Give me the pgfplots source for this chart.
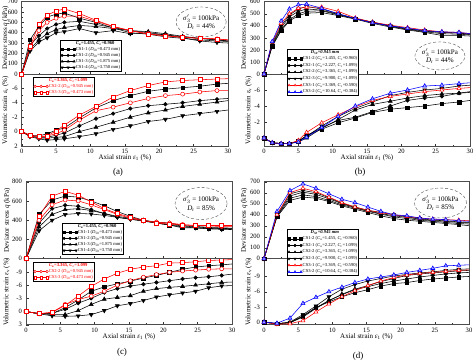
\documentclass[border=0pt]{standalone}
\usepackage{pgfplots}
\pgfplotsset{compat=1.18}
\usepackage{pgfplotstable}
\usepackage{fontspec}
\setmainfont{Liberation Serif}

\pgfplotstableread{
x s1 s2 s3 s4 rc rs
0 0 0 0 0 0 0
1.2 330 280 240 220 250 265
2.5 460 370 330 310 420 480
3.7 550 440 390 350 500 570
5.0 580 480 430 400 540 610
6.2 590 500 450 410 560 630
8.4 540 510 470 440 560 585
10.8 500 480 460 400 510 520
13.3 445 450 440 420 460 460
15.8 400 420 420 390 420 420
18.4 385 400 410 390 390 385
20.9 360 380 390 380 370 370
23.4 345 360 365 350 355 355
25.9 330 345 345 320 345 345
28.4 320 330 330 305 340 340
30 315 320 320 300 330 330
}\tAtop
\pgfplotstableread{
x s1 s2 s3 s4 rc rs
0 0 0 0 0 0 0
1.2 0.5 0.6 0.6 0.7 0.6 0.5
2.5 0.6 0.8 0.9 1.0 0.8 0.7
3.7 0.3 0.8 0.9 1.2 0.6 0.6
5.0 -0.2 0.5 0.8 1.1 0.3 -0.1
6.2 -0.5 0.2 0.7 1.0 -0.2 -0.9
8.4 -1.9 -0.8 0.0 0.7 -1.6 -2.3
10.8 -3.3 -1.8 -0.6 0.3 -2.9 -3.5
13.3 -4.3 -2.5 -1.3 -0.3 -3.4 -4.8
15.8 -5.0 -3.2 -2.0 -0.8 -4.0 -5.7
18.4 -5.6 -3.6 -2.6 -1.4 -4.6 -6.4
20.9 -5.9 -3.8 -3.0 -1.7 -5.0 -6.9
23.4 -6.1 -4.0 -3.5 -2.2 -5.2 -7.1
25.9 -6.3 -4.3 -3.8 -2.5 -5.5 -7.2
28.4 -6.6 -4.5 -4.1 -2.8 -5.7 -7.3
30 -6.7 -4.6 -4.3 -3.0 -5.7 -7.35
}\tAbot
\pgfplotstableread{
x s1 s2 s3 s4 rt bt
0 0 0 0 0 0 0
1.2 230 235 245 255 265 270
2.5 360 370 385 400 420 440
3.7 440 450 475 490 500 540
5.0 485 500 520 540 545 575
6.2 505 520 540 560 555 580
8.4 510 525 530 540 555 545
10.8 485 490 495 500 520 500
13.3 455 460 460 460 465 460
15.8 420 430 430 425 430 425
18.4 390 395 400 400 405 400
20.9 365 370 375 375 385 380
23.4 345 350 355 360 365 360
25.9 320 335 345 345 350 350
28.4 320 330 340 340 345 345
30 315 325 330 330 335 335
}\tBtop
\pgfplotstableread{
x s1 s2 s3 s4 rt bt
0 0 0 0 0 0 0
1.2 0.6 0.6 0.6 0.6 0.6 0.6
2.5 0.7 0.7 0.7 0.7 0.7 0.7
3.7 0.7 0.7 0.7 0.7 0.7 0.7
5.0 0.4 0.4 0.5 0.4 0.3 0.5
6.2 -0.3 -0.3 0.0 -0.2 -0.7 -0.1
8.4 -1.1 -1.3 -1.2 -1.5 -1.9 -1.3
10.8 -1.9 -2.2 -2.3 -2.7 -2.9 -2.7
13.3 -2.5 -2.6 -3.5 -3.7 -3.9 -4.0
15.8 -3.2 -3.3 -4.2 -4.5 -4.7 -4.9
18.4 -3.6 -4.0 -4.6 -5.3 -5.2 -5.6
20.9 -3.8 -4.7 -5.0 -5.7 -5.5 -6.0
23.4 -4.0 -5.0 -5.3 -6.0 -5.8 -6.5
25.9 -4.3 -5.2 -5.5 -6.2 -6.0 -6.6
28.4 -4.5 -5.6 -5.6 -6.5 -6.2 -6.8
30 -4.7 -5.7 -5.8 -6.6 -6.3 -6.9
}\tBbot
\pgfplotstableread{
x s1 s2 s3 s4 rc rs
0 0 0 0 0 0 0
1.9 460 370 330 290 400 440
3.8 610 520 460 400 560 650
5.7 650 555 510 460 610 700
7.6 640 545 520 470 600 660
9.5 600 510 500 465 560 590
11.4 550 470 470 450 510 520
13.3 490 430 440 430 460 470
15.2 440 410 420 410 420 430
17.1 400 390 400 395 395 400
19.0 370 370 380 370 380 370
20.9 350 355 370 350 370 360
22.8 320 340 345 330 355 350
24.7 320 330 335 320 345 345
26.6 315 320 325 310 340 345
28.5 310 315 320 305 335 345
30 310 312 318 303 335 345
}\tCtop
\pgfplotstableread{
x s1 s2 s3 s4 rc rs
0 0 0 0 0 0 0
1.9 0.5 0.5 0.5 0.5 0.5 0.5
3.8 0.5 0.4 0.7 1.0 0.2 0.2
5.7 -0.9 -0.5 0.7 1.1 -1.6 -1.4
7.6 -2.6 -1.9 -0.2 1.0 -2.7 -3.5
9.5 -4.6 -3.0 -1.6 0.7 -3.5 -5.7
11.4 -5.6 -4.3 -2.8 -0.2 -4.6 -7.4
13.3 -6.3 -5.2 -3.2 -1.3 -6.0 -8.7
15.2 -6.9 -5.8 -3.6 -1.8 -7.0 -9.6
17.1 -7.6 -6.2 -4.6 -2.5 -7.8 -10.1
19.0 -8.2 -6.6 -5.2 -3.3 -8.4 -10.4
20.9 -8.9 -7.0 -5.5 -3.8 -8.9 -11.0
22.8 -9.6 -7.4 -5.7 -4.2 -9.2 -11.1
24.7 -10.1 -7.7 -6.0 -4.6 -9.4 -11.3
26.6 -10.4 -7.9 -6.3 -5.4 -9.6 -11.6
28.5 -10.6 -8.2 -6.6 -5.8 -9.7 -11.7
30 -10.8 -8.5 -6.7 -5.9 -9.7 -11.8
}\tCbot
\pgfplotstableread{
x s1 s2 s3 s4 rt bt
0 0 0 0 0 0 0
1.9 380 385 390 400 400 430
3.8 530 550 570 590 600 620
5.7 560 580 605 620 640 680
7.6 550 565 585 600 610 640
9.5 520 530 545 555 560 590
11.4 480 490 500 505 510 540
13.3 450 460 465 470 470 510
15.2 420 430 435 440 440 470
17.1 390 405 410 420 420 430
19.0 365 380 390 400 400 400
20.9 350 365 375 380 385 390
22.8 340 350 360 365 370 370
24.7 330 340 345 350 360 360
26.6 320 330 340 345 355 355
28.5 310 320 330 335 350 345
30 300 315 325 330 345 340
}\tDtop
\pgfplotstableread{
x s1 s2 s3 s4 rt bt
0 0 0 0 0 0 0
1.9 0.3 0.3 0.3 0.3 0.4 0.2
3.8 0.1 0.1 0.1 0.0 0.3 -0.8
5.7 -1.2 -1.2 -1.0 -1.5 -0.3 -3.7
7.6 -2.9 -2.8 -2.7 -3.2 -2.0 -4.9
9.5 -4.0 -4.3 -4.2 -5.0 -3.6 -6.0
11.4 -5.0 -5.4 -5.5 -6.5 -5.0 -6.9
13.3 -5.8 -6.4 -6.5 -7.4 -6.2 -7.8
15.2 -6.4 -7.0 -7.2 -8.1 -7.2 -8.5
17.1 -7.1 -7.6 -8.0 -8.6 -8.1 -8.9
19.0 -7.6 -8.1 -8.6 -9.1 -8.8 -9.3
20.9 -7.8 -8.5 -9.2 -9.4 -9.3 -9.8
22.8 -8.2 -8.9 -9.5 -9.7 -9.6 -10.2
24.7 -8.5 -9.2 -9.7 -9.9 -9.8 -10.6
26.6 -8.7 -9.5 -9.9 -10.2 -10.0 -11.1
28.5 -8.9 -9.7 -10.1 -10.4 -10.2 -11.2
30 -9.0 -9.8 -10.2 -10.5 -10.3 -11.3
}\tDbot

\pgfplotsset{
  base/.style={scale only axis, anchor=north west, xmin=0, xmax=30, xtick={0,5,...,30},
    minor x tick num=1, minor y tick num=1, tick align=inside,
    xtick pos=bottom, ytick pos=left,
    axis line style={black!70, line width=0.5pt},
    every tick/.style={black!80, line width=0.4pt},
    major tick length=2.5pt, minor tick length=1.4pt,
    tick label style={font=\fontsize{6.6}{7.5}\selectfont},
    yticklabel style={xshift=-0.5pt},
    label style={font=\fontsize{7}{8}\selectfont},
    /pgf/number format/assume math mode=true,
    every axis plot/.append style={line width=0.55pt, mark size=1.8pt},
    ylabel style={at={(axis description cs:0,0.5)}, anchor=center},
    legend cell align=left,
    legend style={font=\fontsize{4.6}{5}\selectfont, draw=black, line width=0.3pt, fill=white,
      inner sep=0.6pt, row sep=0.6pt, nodes={inner sep=0.4pt}},
    legend image post style={mark size=1.3pt, line width=0.45pt},
    legend image code/.code={\draw[mark repeat=2,mark phase=2] plot coordinates {(0pt,0pt) (6pt,0pt) (12pt,0pt)};}
  },
  topax/.style={base, xticklabels={}, ylabel={Deviator stress \textit{q} (kPa)}, ymin=0},
  botax/.style={base, y dir=reverse, xlabel={Axial strain \textit{ε}\textsubscript{1} (\%)},
    ylabel={Volumetric strain \textit{ε}\textsubscript{v} (\%)},
    xlabel style={at={(axis description cs:0.5,0)}, anchor=center}},
  s1/.style={black, mark=square*},
  s2/.style={black, mark=*},
  s3/.style={black, mark=triangle*, mark size=2.2pt},
  s4/.style={black, mark=triangle*, mark size=2.2pt, mark options={rotate=180}},
  rs/.style={red, mark=square*, mark size=2pt, mark options={fill=white}},
  rc/.style={red, mark=*, mark size=2pt, mark options={fill=white}},
  rt/.style={red, mark=triangle*, mark size=2.3pt, mark options={fill=white}},
  bt/.style={blue, mark=triangle*, mark size=2.3pt, mark options={fill=blue!35}},
  mA/.style={mark indices={1,...,15}},
  mC/.style={mark indices={1,...,16}},
}
\newcommand{\Dfif}{\textit{D}\textsubscript{50}}
\newcommand{\CuCc}[2]{\textit{C}\textsubscript{u}=#1, \textit{C}\textsubscript{c}=#2}

\begin{document}
\begin{tikzpicture}
\path[use as bounding box] (0,0) rectangle (474pt,-361pt);

%%%%%%%%%%%% (a)
\begin{axis}[botax, at={(21.7pt,-74pt)}, width=206.3pt, height=72pt,
  ymin=-8, ymax=2, ytick={-6,-4,-2,0,2},
  ylabel style={yshift=16.3pt}, xlabel style={yshift=-12pt},
  legend style={at={(0.055,0.96)}, anchor=north west, text=red}]
\addlegendimage{empty legend}\addlegendentry{\textbf{\CuCc{3.365}{1.099}}}
\addplot[s1,mA,forget plot] table[x=x,y=s1]{\tAbot};
\addplot[s2,mA,forget plot] table[x=x,y=s2]{\tAbot};
\addplot[s3,mA,forget plot] table[x=x,y=s3]{\tAbot};
\addplot[s4,mA,forget plot] table[x=x,y=s4]{\tAbot};
\addplot[rc,mA] table[x=x,y=rc]{\tAbot};\addlegendentry{CS2-2 (\Dfif=0.945 mm)}
\addplot[rs,mA] table[x=x,y=rs]{\tAbot};\addlegendentry{CS3-3 (\Dfif=0.473 mm)}
\end{axis}
\begin{axis}[topax, at={(21.7pt,-1.7pt)}, width=206.3pt, height=72.3pt,
  ymax=700, ytick={0,100,...,700},
  ylabel style={yshift=16.3pt},
  legend style={at={(0.186,0.04)}, anchor=south west}]
\addlegendimage{empty legend}\addlegendentry{\textbf{\CuCc{1.455}{0.960}}}
\addplot[s1,mA] table[x=x,y=s1]{\tAtop};\addlegendentry{CS1-1 (\Dfif=0.473 mm)}
\addplot[s2,mA] table[x=x,y=s2]{\tAtop};\addlegendentry{CS1-2 (\Dfif=0.945 mm)}
\addplot[s3,mA] table[x=x,y=s3]{\tAtop};\addlegendentry{CS1-3 (\Dfif=1.875 mm)}
\addplot[s4,mA] table[x=x,y=s4]{\tAtop};\addlegendentry{CS1-4 (\Dfif=3.750 mm)}
\addplot[rc,mA,forget plot] table[x=x,y=rc]{\tAtop};
\addplot[rs,mA,forget plot] table[x=x,y=rs]{\tAtop};
\draw[densely dashed, black!70, line width=0.4pt] (axis description cs:0.87,0.72) ellipse [x radius=25pt, y radius=15pt];
\node[font=\fontsize{7}{8.5}\selectfont, align=center] at (axis description cs:0.87,0.72) {\textit{σ}$'_{3}$ = 100kPa\\\textit{D}\textsubscript{r} = 44\%};
\end{axis}
\node[font=\fontsize{9}{10}\selectfont] at (118pt,-172pt) {(a)};

%%%%%%%%%%%% (b)
\begin{axis}[botax, at={(264pt,-74pt)}, width=206pt, height=72pt,
  ymin=-8, ymax=1, ytick={-6,-4,-2,0},
  ylabel style={yshift=15.3pt}, xlabel style={yshift=-12pt}]
\addplot[s1,mA] table[x=x,y=s1]{\tBbot};
\addplot[s2,mA] table[x=x,y=s2]{\tBbot};
\addplot[s3,mA] table[x=x,y=s3]{\tBbot};
\addplot[s4,mA] table[x=x,y=s4]{\tBbot};
\addplot[rt,mA] table[x=x,y=rt]{\tBbot};
\addplot[bt,mA] table[x=x,y=bt]{\tBbot};
\end{axis}
\begin{axis}[topax, at={(264pt,-1.7pt)}, width=206pt, height=72.3pt,
  ymax=600, ytick={0,100,...,600},
  ylabel style={yshift=19.7pt},
  legend style={at={(0.112,0.346)}, anchor=north west, row sep=1.1pt}]
\addlegendimage{empty legend}\addlegendentry{\hspace{8pt}\textbf{\textit{\Dfif=0.945 mm}}}
\addplot[s1,mA] table[x=x,y=s1]{\tBtop};\addlegendentry{CS1-2 (\CuCc{1.455}{0.960})}
\addplot[s2,mA] table[x=x,y=s2]{\tBtop};\addlegendentry{CS2-1 (\CuCc{2.227}{1.099})}
\addplot[s3,mA] table[x=x,y=s3]{\tBtop};\addlegendentry{CS2-2 (\CuCc{3.365}{1.099})}
\addplot[s4,mA] table[x=x,y=s4]{\tBtop};\addlegendentry{CS2-3 (\CuCc{9.900}{1.099})}
\addplot[rt,mA] table[x=x,y=rt]{\tBtop};\addlegendentry{CS3-1 (\CuCc{3.369}{0.590})}
\addplot[bt,mA] table[x=x,y=bt]{\tBtop};\addlegendentry{CS3-2 (\CuCc{10.64}{0.384})}
\draw[densely dashed, black!70, line width=0.4pt] (axis description cs:0.854,0.25) ellipse [x radius=25pt, y radius=14pt];
\node[font=\fontsize{7}{8.5}\selectfont, align=center] at (axis description cs:0.854,0.25) {\textit{σ}$'_{3}$ = 100kPa\\\textit{D}\textsubscript{r} = 44\%};
\end{axis}
\node[font=\fontsize{9}{10}\selectfont] at (360pt,-172pt) {(b)};

%%%%%%%%%%%% (c)
\begin{axis}[botax, at={(26pt,-258.7pt)}, width=206pt, height=66pt,
  ymin=-12, ymax=3, ytick={-9,-6,-3,0,3},
  ylabel style={yshift=19.3pt}, xlabel style={yshift=-12pt},
  legend style={at={(0.034,0.95)}, anchor=north west, text=red}]
\addlegendimage{empty legend}\addlegendentry{\textbf{\CuCc{3.365}{1.099}}}
\addplot[s1,mC,forget plot] table[x=x,y=s1]{\tCbot};
\addplot[s2,mC,forget plot] table[x=x,y=s2]{\tCbot};
\addplot[s3,mC,forget plot] table[x=x,y=s3]{\tCbot};
\addplot[s4,mC,forget plot] table[x=x,y=s4]{\tCbot};
\addplot[rc,mC] table[x=x,y=rc]{\tCbot};\addlegendentry{CS2-2 (\Dfif=0.945 mm)}
\addplot[rs,mC] table[x=x,y=rs]{\tCbot};\addlegendentry{CS3-3 (\Dfif=0.473 mm)}
\end{axis}
\begin{axis}[topax, at={(26pt,-181.7pt)}, width=206pt, height=77pt,
  ymax=800, ytick={0,200,...,800},
  ylabel style={yshift=18.7pt},
  legend style={at={(0.175,0.06)}, anchor=south west}]
\addlegendimage{empty legend}\addlegendentry{\textbf{\CuCc{1.455}{0.960}}}
\addplot[s1,mC] table[x=x,y=s1]{\tCtop};\addlegendentry{CS1-1 (\Dfif=0.473 mm)}
\addplot[s2,mC] table[x=x,y=s2]{\tCtop};\addlegendentry{CS1-2 (\Dfif=0.945 mm)}
\addplot[s3,mC] table[x=x,y=s3]{\tCtop};\addlegendentry{CS1-3 (\Dfif=1.875 mm)}
\addplot[s4,mC] table[x=x,y=s4]{\tCtop};\addlegendentry{CS1-4 (\Dfif=3.750 mm)}
\addplot[rc,mC,forget plot] table[x=x,y=rc]{\tCtop};
\addplot[rs,mC,forget plot] table[x=x,y=rs]{\tCtop};
\draw[densely dashed, black!70, line width=0.4pt] (axis description cs:0.85,0.717) ellipse [x radius=26pt, y radius=16pt];
\node[font=\fontsize{7}{8.5}\selectfont, align=center] at (axis description cs:0.85,0.717) {\textit{σ}$'_{3}$ = 100kPa\\\textit{D}\textsubscript{r} = 85\%};
\end{axis}
\node[font=\fontsize{9}{10}\selectfont] at (122pt,-352pt) {(c)};

%%%%%%%%%%%% (d)
\begin{axis}[botax, at={(264pt,-258.7pt)}, width=205pt, height=66pt,
  ymin=-12.5, ymax=0.5, ytick={-9,-6,-3,0},
  ylabel style={yshift=15.3pt}, xlabel style={yshift=-12pt}]
\addplot[s1,mC] table[x=x,y=s1]{\tDbot};
\addplot[s2,mC] table[x=x,y=s2]{\tDbot};
\addplot[s3,mC] table[x=x,y=s3]{\tDbot};
\addplot[s4,mC] table[x=x,y=s4]{\tDbot};
\addplot[rt,mC] table[x=x,y=rt]{\tDbot};
\addplot[bt,mC] table[x=x,y=bt]{\tDbot};
\end{axis}
\begin{axis}[topax, at={(264pt,-181.7pt)}, width=205pt, height=77pt,
  ymax=700, ytick={0,100,...,700},
  ylabel style={yshift=19.7pt},
  legend style={at={(0.112,0.386)}, anchor=north west, row sep=1.1pt}]
\addlegendimage{empty legend}\addlegendentry{\hspace{8pt}\textbf{\textit{\Dfif=0.945 mm}}}
\addplot[s1,mC] table[x=x,y=s1]{\tDtop};\addlegendentry{CS1-2 (\CuCc{1.455}{0.960})}
\addplot[s2,mC] table[x=x,y=s2]{\tDtop};\addlegendentry{CS2-1 (\CuCc{2.227}{1.099})}
\addplot[s3,mC] table[x=x,y=s3]{\tDtop};\addlegendentry{CS2-2 (\CuCc{3.365}{1.099})}
\addplot[s4,mC] table[x=x,y=s4]{\tDtop};\addlegendentry{CS2-3 (\CuCc{9.900}{1.099})}
\addplot[rt,mC] table[x=x,y=rt]{\tDtop};\addlegendentry{CS3-1 (\CuCc{3.369}{0.590})}
\addplot[bt,mC] table[x=x,y=bt]{\tDtop};\addlegendentry{CS3-2 (\CuCc{10.64}{0.384})}
\draw[densely dashed, black!70, line width=0.4pt] (axis description cs:0.861,0.723) ellipse [x radius=26pt, y radius=15pt];
\node[font=\fontsize{7}{8.5}\selectfont, align=center] at (axis description cs:0.861,0.723) {\textit{σ}$'_{3}$ = 100kPa\\\textit{D}\textsubscript{r} = 85\%};
\end{axis}
\node[font=\fontsize{9}{10}\selectfont] at (358pt,-356pt) {(d)};
\end{tikzpicture}
\end{document}
